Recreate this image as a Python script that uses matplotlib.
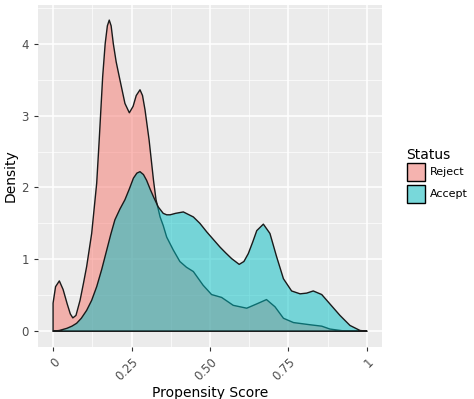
import matplotlib.pyplot as plt
from matplotlib.patches import Rectangle

# Density curves
reject_x = [0.0, 0.0, 0.008, 0.02, 0.032, 0.045, 0.055, 0.063, 0.073, 0.086, 0.097,
            0.107, 0.123, 0.139, 0.147, 0.158, 0.166, 0.173, 0.179, 0.185, 0.192,
            0.201, 0.211, 0.229, 0.243, 0.255, 0.265, 0.277, 0.285, 0.293, 0.306,
            0.32, 0.328, 0.341, 0.351, 0.362, 0.383, 0.404, 0.425, 0.447, 0.478,
            0.505, 0.537, 0.574, 0.617, 0.649, 0.68, 0.707, 0.734, 0.766, 0.818,
            0.856, 0.882, 0.924, 1.0]
reject_y = [0.0, 0.39, 0.62, 0.70, 0.58, 0.38, 0.24, 0.185, 0.22, 0.43, 0.67,
            0.90, 1.36, 2.06, 2.66, 3.54, 4.0, 4.25, 4.33, 4.25, 4.0,
            3.75, 3.54, 3.17, 3.04, 3.13, 3.28, 3.36, 3.28, 3.08, 2.66,
            2.1, 1.83, 1.59, 1.47, 1.31, 1.13, 0.97, 0.89, 0.83, 0.64,
            0.51, 0.47, 0.36, 0.32, 0.38, 0.44, 0.34, 0.18, 0.12, 0.09,
            0.07, 0.03, 0.005, 0.0]

accept_x = [0.0, 0.02, 0.044, 0.06, 0.075, 0.09, 0.107, 0.123, 0.139, 0.155, 0.171,
            0.184, 0.197, 0.213, 0.229, 0.243, 0.256, 0.267, 0.277, 0.288, 0.298,
            0.31, 0.32, 0.335, 0.351, 0.362, 0.373, 0.39, 0.415, 0.447, 0.468,
            0.49, 0.51, 0.532, 0.55, 0.569, 0.593, 0.608, 0.622, 0.636, 0.649,
            0.67, 0.691, 0.712, 0.734, 0.76, 0.787, 0.808, 0.829, 0.856, 0.882,
            0.914, 0.946, 0.978, 1.0]
accept_y = [0.0, 0.01, 0.04, 0.07, 0.11, 0.18, 0.29, 0.43, 0.62, 0.86, 1.13,
            1.35, 1.55, 1.7, 1.83, 1.98, 2.13, 2.2, 2.22, 2.18, 2.1,
            1.97, 1.87, 1.73, 1.64, 1.62, 1.62, 1.64, 1.66, 1.59, 1.5,
            1.38, 1.28, 1.17, 1.09, 1.01, 0.93, 0.97, 1.08, 1.24, 1.40,
            1.49, 1.36, 1.04, 0.73, 0.56, 0.52, 0.53, 0.56, 0.51, 0.38,
            0.22, 0.08, 0.01, 0.0]

x_ticks = [0, 0.25, 0.5, 0.75, 1]
x_labels = ["0", "0.25", "0.50", "0.75", "1"]
y_ticks = [0, 1, 2, 3, 4]

fig = plt.figure(figsize=(4.74, 3.99), dpi=100)
ax = fig.add_axes([38 / 474, 52 / 399, 344 / 474, 342 / 399])
ax.set_facecolor('#EBEBEB')

ax.fill(reject_x, reject_y, facecolor='#F8766D', alpha=0.5, edgecolor='none', zorder=2)
ax.fill(reject_x, reject_y, facecolor='none', edgecolor='#1a1a1a', linewidth=1.0,
        joinstyle='round', zorder=3)
ax.fill(accept_x, accept_y, facecolor='#00BFC4', alpha=0.5, edgecolor='none', zorder=4)
ax.fill(accept_x, accept_y, facecolor='none', edgecolor='#1a1a1a', linewidth=1.0,
        joinstyle='round', zorder=5)

ax.set_xlim(-0.048, 1.048)
ax.set_ylim(-0.22, 4.54)

# ggplot-like grid
for v in [0.125, 0.375, 0.625, 0.875]:
    ax.axvline(v, color='white', linewidth=0.5, zorder=1)
for v in [0.5, 1.5, 2.5, 3.5, 4.5]:
    ax.axhline(v, color='white', linewidth=0.5, zorder=1)
for v in x_ticks:
    ax.axvline(v, color='white', linewidth=1.1, zorder=1)
for v in y_ticks:
    ax.axhline(v, color='white', linewidth=1.1, zorder=1)

for s in ax.spines.values():
    s.set_visible(False)

ax.set_xticks(x_ticks)
ax.set_xticklabels(x_labels, rotation=45, ha='right', va='top', rotation_mode='anchor')
ax.set_yticks(y_ticks)
ax.tick_params(colors='#333333', labelcolor='#4D4D4D', labelsize=8.5, length=3, width=0.8)

ax.set_xlabel("Propensity Score", fontsize=10, labelpad=2)
ax.set_ylabel("Density", fontsize=10, labelpad=3)

# legend
fig.text(406 / 474, 1 - 155 / 399, "Status", fontsize=10, va='center', ha='left')
for i, (name, col) in enumerate([("Reject", '#F8766D'), ("Accept", '#00BFC4')]):
    top = 163 + i * 22
    fig.add_artist(Rectangle((407 / 474, 1 - (top + 18) / 399), 18 / 474, 18 / 399,
                             facecolor='#F2F2F2', edgecolor='none', transform=fig.transFigure))
    fig.add_artist(Rectangle((407 / 474, 1 - (top + 18) / 399), 18 / 474, 18 / 399,
                             facecolor=col, alpha=0.5, edgecolor='none', transform=fig.transFigure))
    fig.add_artist(Rectangle((407 / 474, 1 - (top + 18) / 399), 18 / 474, 18 / 399,
                             facecolor='none', edgecolor='black', linewidth=1.0,
                             transform=fig.transFigure))
    fig.text(430 / 474, 1 - (top + 9) / 399, name, fontsize=8, va='center', ha='left')

fig.savefig('out.png', dpi=100)
